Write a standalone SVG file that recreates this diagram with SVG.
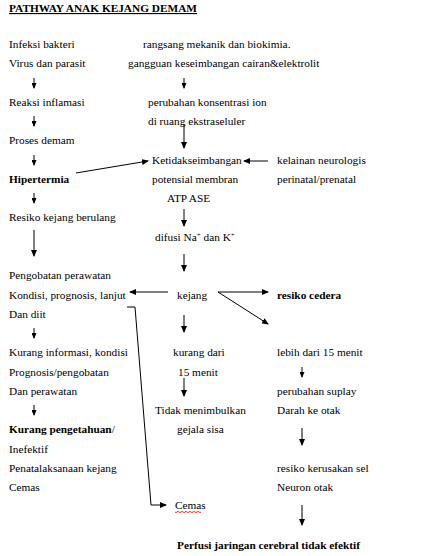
<svg xmlns="http://www.w3.org/2000/svg" width="441" height="556" viewBox="0 0 441 556">
<style>
text{font-family:"Liberation Serif","Times New Roman",serif;font-size:11.3px;fill:#000}
.b{font-weight:bold}
.c line,.c path{stroke:#000;stroke-width:1;fill:none}
.sup{font-size:7px}
</style>
<defs>
<marker id="ah" markerUnits="userSpaceOnUse" markerWidth="7" markerHeight="6" refX="6" refY="3" orient="auto">
<path d="M0,0 L7,3 L0,6 z" fill="#000"/>
</marker>
<marker id="as" markerUnits="userSpaceOnUse" markerWidth="6" markerHeight="5" refX="5" refY="2.5" orient="auto">
<path d="M0,0 L6,2.5 L0,5 z" fill="#000"/>
</marker>
</defs>
<rect width="441" height="556" fill="#fff"/>
<g id="title"><text x="9" y="12" class="b" text-decoration="underline">PATHWAY ANAK KEJANG DEMAM</text></g>
<g id="n-infeksi"><text x="9" y="48">Infeksi bakteri</text><text x="9" y="67.3">Virus dan parasit</text></g>
<g id="n-rangsang"><text x="143" y="48">rangsang mekanik dan biokimia.</text><text x="128" y="67.3">gangguan keseimbangan cairan&amp;elektrolit</text></g>
<g id="n-reaksi"><text x="9" y="105.8">Reaksi inflamasi</text></g>
<g id="n-perubahan"><text x="148" y="105.8">perubahan konsentrasi ion</text><text x="148" y="125.1">di ruang ekstraseluler</text></g>
<g id="n-proses"><text x="9" y="144.4">Proses demam</text></g>
<g id="n-ketidak"><text x="152" y="163.6">Ketidakseimbangan</text><text x="152" y="182.9">potensial membran</text><text x="167" y="202.2">ATP ASE</text></g>
<g id="n-kelainan"><text x="277" y="163.6">kelainan neurologis</text><text x="277" y="182.9">perinatal/prenatal</text></g>
<g id="n-hiper"><text x="9" y="182.9" class="b">Hipertermia</text></g>
<g id="n-resiko"><text x="9" y="221.4">Resiko kejang berulang</text></g>
<g id="n-difusi"><text x="155" y="240.7">difusi Na<tspan class="sup" dy="-4">+</tspan><tspan dy="4"> dan K</tspan><tspan class="sup" dy="-4">+</tspan></text></g>
<g id="n-pengobatan"><text x="9" y="279.2">Pengobatan perawatan</text><text x="9" y="298.5">Kondisi, prognosis, lanjut</text><text x="9" y="317.8">Dan diit</text></g>
<g id="n-kejang"><text x="177" y="298.5">kejang</text></g>
<g id="n-cedera"><text x="277" y="298.5" class="b">resiko cedera</text></g>
<g id="n-kurang-info"><text x="9" y="356.3">Kurang informasi, kondisi</text><text x="9" y="375.6">Prognosis/pengobatan</text><text x="9" y="394.9">Dan perawatan</text></g>
<g id="n-kurang-dari"><text x="173" y="356.3">kurang dari</text><text x="178" y="375.6">15 menit</text></g>
<g id="n-lebih"><text x="277" y="356.3">lebih dari 15 menit</text></g>
<g id="n-suplay"><text x="277" y="394.9">perubahan suplay</text><text x="277" y="414.1">Darah ke otak</text></g>
<g id="n-tidak"><text x="155" y="414.1">Tidak menimbulkan</text><text x="177" y="433.4">gejala sisa</text></g>
<g id="n-pengetahuan"><text x="9" y="433.4"><tspan class="b">Kurang pengetahuan</tspan>/</text><text x="9" y="452.7">Inefektif</text><text x="9" y="471.9">Penatalaksanaan kejang</text><text x="9" y="491.2">Cemas</text></g>
<g id="n-kerusakan"><text x="277" y="471.9">resiko kerusakan sel</text><text x="277" y="491.2">Neuron otak</text></g>
<g id="n-cemas"><text x="175" y="509">Cemas</text><path d="M175,512 q1,1.2 2,0 t2,0 t2,0 t2,0 t2,0 t2,0 t2,0 t2,0 t2,0 t2,0 t2,0 t2,0 t2,0" stroke="#e00" stroke-width="0.8" fill="none"/></g>
<g id="n-perfusi"><text x="177" y="549" class="b">Perfusi jaringan cerebral tidak efektif</text></g>
<g id="connectors" class="c">
<line x1="34" y1="78" x2="34" y2="88" marker-end="url(#as)"/>
<line x1="184" y1="78" x2="184" y2="88" marker-end="url(#as)"/>
<line x1="34" y1="116" x2="34" y2="126" marker-end="url(#as)"/>
<line x1="34" y1="155" x2="34" y2="165" marker-end="url(#as)"/>
<line x1="34" y1="193" x2="34" y2="203" marker-end="url(#as)"/>
<line x1="34" y1="328" x2="34" y2="338" marker-end="url(#as)"/>
<line x1="34" y1="405" x2="34" y2="415" marker-end="url(#as)"/>
<line x1="302" y1="367" x2="302" y2="377" marker-end="url(#as)"/>
<line x1="184" y1="124" x2="184" y2="148" marker-end="url(#ah)"/>
<line x1="184" y1="209" x2="184" y2="226" marker-end="url(#ah)"/>
<line x1="184" y1="254" x2="184" y2="271" marker-end="url(#ah)"/>
<line x1="34" y1="230" x2="34" y2="256" marker-end="url(#ah)"/>
<line x1="184" y1="315" x2="184" y2="332" marker-end="url(#ah)"/>
<line x1="184" y1="378" x2="184" y2="396" marker-end="url(#ah)"/>
<line x1="302" y1="428" x2="302" y2="445" marker-end="url(#ah)"/>
<line x1="302" y1="505" x2="302" y2="525" marker-end="url(#ah)"/>
<line x1="76" y1="173" x2="148" y2="161" marker-end="url(#ah)"/>
<line x1="268" y1="161" x2="244" y2="161" marker-end="url(#ah)"/>
<line x1="168" y1="292" x2="130" y2="292" marker-end="url(#ah)"/>
<line x1="218" y1="292" x2="268" y2="292" marker-end="url(#ah)"/>
<line x1="218" y1="292" x2="268" y2="324" marker-end="url(#ah)"/>
<path d="M127,307 L135,307 L151,505 L166,505" marker-end="url(#ah)"/>
</g>
</svg>
